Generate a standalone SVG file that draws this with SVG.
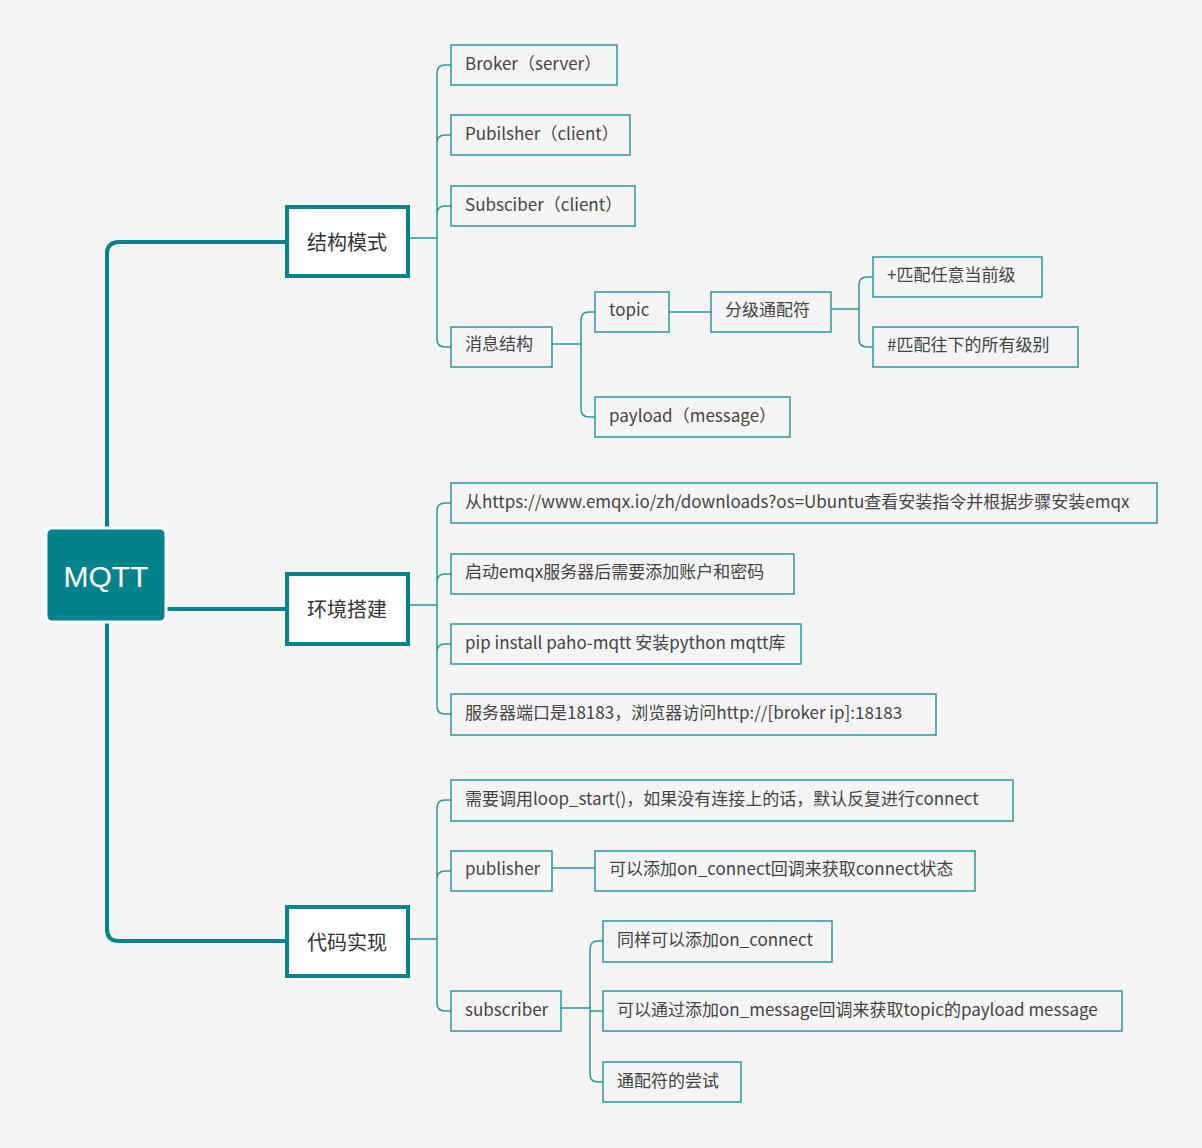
<svg xmlns="http://www.w3.org/2000/svg" width="1202" height="1148" viewBox="0 0 1202 1148">
<style>
.bg{fill:#f4f4f4}
.l1 rect{fill:#fff;stroke:#04838c;stroke-width:4}
.l1 text{font:20px "Noto Sans CJK SC","Liberation Sans",sans-serif;fill:#333;text-anchor:middle}
.n rect{fill:#f4f4f4;stroke:#2a97a0;stroke-width:1.5}
.n text{font:17px "Noto Sans CJK SC","Liberation Sans",sans-serif;fill:#444}
.c{fill:none;stroke:#2a97a0;stroke-width:1.5}
.m{fill:none;stroke:#04838c;stroke-width:4}
</style>
<rect class="bg" width="1202" height="1148"/>
<g id="connectors">
<path class="m" d="M107,529 V254 Q107,242 119,242 H286"/>
<path class="m" d="M165,609 H286"/>
<path class="m" d="M107,621 V929 Q107,941 119,941 H286"/>
<path class="c" d="M409,238 H437 M437,238 V73 Q437,65 445,65 H451 M437,143 Q437,135 445,135 H451 M437,214 Q437,206 445,206 H451 M437,238 V339 Q437,347 445,347 H451 M437,135 V214"/>
<path class="c" d="M552,344 H581 M581,344 V320 Q581,312 589,312 H595 M581,344 V409 Q581,417 589,417 H595"/>
<path class="c" d="M669,312 H711"/>
<path class="c" d="M831,309 H859 V285 Q859,277 867,277 H873 M859,309 V339 Q859,347 867,347 H873"/>
<path class="c" d="M409,605 H437 M437,605 V511 Q437,503 445,503 H451 M437,582 Q437,574 445,574 H451 M437,605 V706 Q437,714 445,714 H451 M437,652 Q437,644 445,644 H451"/>
<path class="c" d="M409,939 H437 M437,939 V808 Q437,800 445,800 H451 M437,879 Q437,871 445,871 H451 M437,939 V1003 Q437,1011 445,1011 H451"/>
<path class="c" d="M552,868 H595"/>
<path class="c" d="M561,1008 H590 M590,1008 V949 Q590,941 598,941 H603 M590,1008 V1011 H603 M590,1008 V1074 Q590,1082 598,1082 H603"/>
</g>
<g id="root"><rect x="46" y="528" width="120" height="94" rx="6" fill="#04838c" stroke="#fff" stroke-width="3"/><text x="106" y="587" font-family="Liberation Sans,sans-serif" font-size="30" fill="#fff" text-anchor="middle">MQTT</text></g>
<g id="b1" class="l1"><rect x="287" y="207" width="121" height="69"/><text x="347" y="250">结构模式</text></g>
<g id="b2" class="l1"><rect x="287" y="574" width="121" height="70"/><text x="347" y="617">环境搭建</text></g>
<g id="b3" class="l1"><rect x="287" y="907" width="121" height="69"/><text x="347" y="950">代码实现</text></g>
<g id="n1" class="n"><rect x="451" y="45" width="166" height="40"/><text x="465" y="70">Broker（server）</text></g>
<g id="n2" class="n"><rect x="451" y="115" width="179" height="40"/><text x="465" y="140">Pubilsher（client）</text></g>
<g id="n3" class="n"><rect x="451" y="186" width="184" height="40"/><text x="465" y="211">Subsciber（client）</text></g>
<g id="n4" class="n"><rect x="451" y="327" width="101" height="40"/><text x="465" y="350">消息结构</text></g>
<g id="n5" class="n"><rect x="595" y="292" width="74" height="40"/><text x="609" y="316">topic</text></g>
<g id="n6" class="n"><rect x="595" y="397" width="195" height="40"/><text x="609" y="422">payload（message）</text></g>
<g id="n7" class="n"><rect x="711" y="292" width="120" height="40"/><text x="725" y="316">分级通配符</text></g>
<g id="n8" class="n"><rect x="873" y="257" width="169" height="40"/><text x="887" y="281">+匹配任意当前级</text></g>
<g id="n9" class="n"><rect x="873" y="327" width="205" height="40"/><text x="887" y="351">#匹配往下的所有级别</text></g>
<g id="n10" class="n"><rect x="451" y="483" width="706" height="40"/><text x="465" y="508">从https://www.emqx.io/zh/downloads?os=Ubuntu查看安装指令并根据步骤安装emqx</text></g>
<g id="n11" class="n"><rect x="451" y="554" width="343" height="40"/><text x="465" y="578">启动emqx服务器后需要添加账户和密码</text></g>
<g id="n12" class="n"><rect x="451" y="624" width="350" height="40"/><text x="465" y="649">pip install paho-mqtt 安装python mqtt库</text></g>
<g id="n13" class="n"><rect x="451" y="694" width="485" height="41"/><text x="465" y="719">服务器端口是18183，浏览器访问http://[broker ip]:18183</text></g>
<g id="n14" class="n"><rect x="451" y="780" width="562" height="41"/><text x="465" y="805">需要调用loop_start()，如果没有连接上的话，默认反复进行connect</text></g>
<g id="n15" class="n"><rect x="451" y="851" width="101" height="40"/><text x="465" y="875">publisher</text></g>
<g id="n16" class="n"><rect x="451" y="991" width="110" height="40"/><text x="465" y="1016">subscriber</text></g>
<g id="n17" class="n"><rect x="595" y="851" width="380" height="40"/><text x="609" y="875">可以添加on_connect回调来获取connect状态</text></g>
<g id="n18" class="n"><rect x="603" y="921" width="229" height="41"/><text x="617" y="946">同样可以添加on_connect</text></g>
<g id="n19" class="n"><rect x="603" y="991" width="519" height="40"/><text x="617" y="1016">可以通过添加on_message回调来获取topic的payload message</text></g>
<g id="n20" class="n"><rect x="603" y="1062" width="138" height="40"/><text x="617" y="1087">通配符的尝试</text></g>
</svg>
